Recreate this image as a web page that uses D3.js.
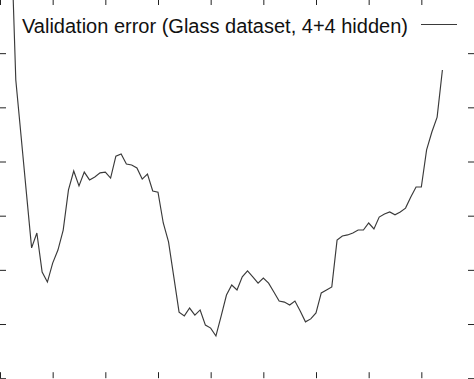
<!DOCTYPE html>
<html>
<head>
<meta charset="utf-8">
<script src="https://cdn.jsdelivr.net/npm/d3@7"></script>
<style>
  html, body { margin: 0; padding: 0; background: #fff; }
  svg { display: block; }
</style>
</head>
<body>
<div id="chart"></div>
<script>
// ---- data ----
const epochs = [2,3,4,5,6,7,8,9,10,11,12,13,14,15,16,17,18,19,20,21,22,23,24,25,26,27,28,29,30,31,32,33,34,35,36,37,38,39,40,41,42,43,44,45,46,47,48,49,50,51,52,53,54,55,56,57,58,59,60,61,62,63,64,65,66,67,68,69,70,71,72,73,74,75,76,77,78,79,80,81,82,83,84];
const validationError = [37.06,31.01,28.94,26.87,24.81,25.36,23.92,23.55,24.25,24.73,25.47,26.95,27.65,27.10,27.61,27.32,27.43,27.58,27.61,27.39,28.20,28.28,27.91,27.87,27.76,27.35,27.54,26.91,26.87,25.73,25.03,23.74,22.44,22.30,22.59,22.33,22.52,21.96,21.85,21.56,22.30,23.07,23.44,23.26,23.74,23.96,23.74,23.51,23.70,23.51,23.18,22.85,22.81,22.70,22.85,22.48,22.08,22.19,22.41,23.15,23.26,23.37,25.10,25.25,25.29,25.36,25.47,25.47,25.73,25.51,25.95,26.06,26.14,26.03,26.14,26.28,26.69,27.06,27.06,28.43,29.09,29.64,31.38];
const xTicks = [0,10,20,30,40,50,60,70,80,90];
const yTicks = [20,22,24,26,28,30,32,34];
const legendLabel = "Validation error (Glass dataset, 4+4 hidden)";

// ---- layout ----
const W = 474, H = 379;
const svg = d3.select("#chart").append("svg")
  .attr("width", W).attr("height", H);

const x = d3.scaleLinear().domain([0, 90]).range([0, 474]);
const y = d3.scaleLinear().domain([20, 34]).range([378.2, -1]);

svg.append("defs").append("clipPath").attr("id", "clip")
  .append("rect").attr("x", 0).attr("y", 0).attr("width", W).attr("height", H);

const tickLen = 6;
function styleAxis(g) {
  g.select(".domain").remove();
  g.selectAll("text").remove();
  g.selectAll("line").attr("stroke", "#222").attr("stroke-width", 1);
}

// left (ticks pointing inward/right)
svg.append("g").attr("transform", `translate(${x(0)},0)`)
  .call(d3.axisRight(y).tickValues(yTicks).tickSize(tickLen).tickFormat(""))
  .call(styleAxis);
// right
svg.append("g").attr("transform", `translate(${x(90)},0)`)
  .call(d3.axisLeft(y).tickValues(yTicks).tickSize(tickLen).tickFormat(""))
  .call(styleAxis);
// top (ticks pointing down)
svg.append("g").attr("transform", `translate(0,${y(34)})`)
  .call(d3.axisBottom(x).tickValues(xTicks).tickSize(tickLen).tickFormat(""))
  .call(styleAxis);
// bottom (ticks pointing up)
svg.append("g").attr("transform", `translate(0,${y(20)})`)
  .call(d3.axisTop(x).tickValues(xTicks).tickSize(tickLen).tickFormat(""))
  .call(styleAxis);

// line
const pts = epochs.map((e, i) => [e, validationError[i]]);
svg.append("path")
  .datum(pts)
  .attr("clip-path", "url(#clip)")
  .attr("fill", "none")
  .attr("stroke", "#3a3a3a")
  .attr("stroke-width", 1.15)
  .attr("stroke-linejoin", "miter")
  .attr("d", d3.line().x(d => x(d[0])).y(d => y(d[1])));

// legend
svg.append("text")
  .attr("x", 22).attr("y", 33)
  .attr("font-family", "'Liberation Sans', Arial, Helvetica, sans-serif")
  .attr("font-size", 20)
  .attr("fill", "#111")
  .text(legendLabel);
svg.append("line")
  .attr("x1", 421).attr("x2", 457)
  .attr("y1", 24.5).attr("y2", 24.5)
  .attr("stroke", "#3a3a3a").attr("stroke-width", 1.15);
</script>
</body>
</html>
